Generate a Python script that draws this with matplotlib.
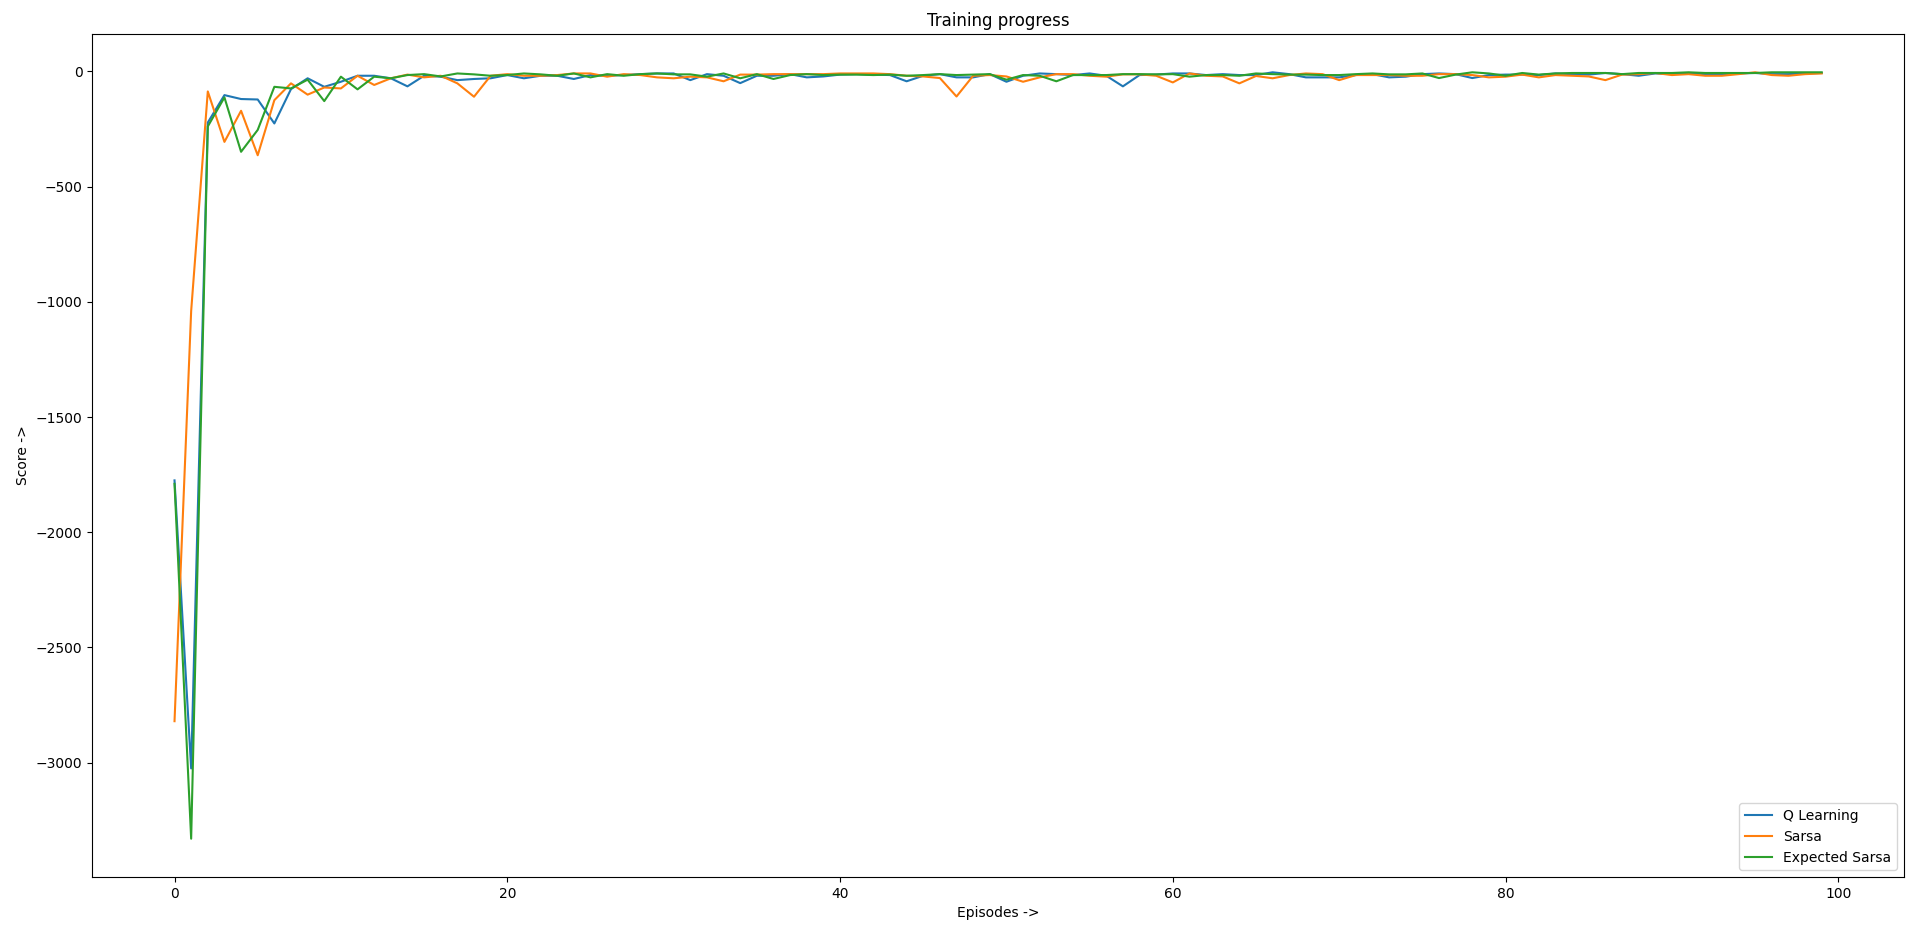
import matplotlib
matplotlib.use("Agg")
import matplotlib.pyplot as plt

episodes = list(range(100))

q_learning = [-1775, -3025, -222, -103, -120, -122, -226, -77, -30, -67,
              -45, -19, -19, -30, -65, -19, -23, -38, -33, -30,
              -16, -30, -19, -19, -33, -16, -19, -16, -12, -9,
              -9, -38, -12, -19, -51, -19, -19, -12, -26, -22,
              -14, -12, -14, -16, -43, -19, -12, -26, -26, -12,
              -45, -19, -9, -12, -16, -9, -19, -65, -16, -14,
              -9, -9, -16, -12, -16, -16, -4, -12, -26, -26,
              -26, -16, -12, -26, -23, -12, -9, -12, -29, -16,
              -14, -14, -16, -9, -12, -14, -7, -12, -19, -9,
              -12, -7, -12, -12, -9, -7, -12, -12, -9, -7]

sarsa = [-2820, -1040, -87, -306, -171, -364, -125, -52, -101, -70,
         -74, -19, -59, -30, -14, -26, -19, -52, -110, -19,
         -12, -19, -19, -16, -9, -9, -23, -12, -16, -26,
         -30, -23, -26, -43, -14, -14, -12, -12, -12, -12,
         -9, -9, -9, -12, -19, -22, -29, -109, -19, -16,
         -22, -45, -26, -12, -12, -19, -23, -13, -13, -19,
         -48, -9, -19, -22, -52, -20, -30, -16, -9, -12,
         -38, -16, -16, -16, -19, -19, -12, -12, -16, -26,
         -23, -14, -26, -16, -19, -22, -38, -14, -12, -7,
         -16, -12, -19, -19, -12, -4, -16, -19, -12, -9]

expected_sarsa = [-1790, -3330, -239, -113, -349, -254, -67, -74, -36, -129,
                  -23, -78, -23, -30, -16, -12, -22, -9, -13, -19,
                  -16, -9, -13, -19, -9, -26, -12, -19, -12, -9,
                  -13, -13, -23, -9, -30, -12, -33, -16, -12, -16,
                  -14, -14, -16, -14, -19, -16, -12, -16, -14, -12,
                  -36, -16, -19, -43, -16, -16, -16, -12, -12, -13,
                  -12, -23, -16, -16, -19, -9, -12, -14, -14, -16,
                  -16, -12, -9, -13, -13, -9, -29, -14, -4, -9,
                  -19, -7, -14, -9, -7, -7, -7, -12, -7, -7,
                  -7, -4, -7, -7, -7, -7, -4, -4, -4, -4]

fig = plt.figure(figsize=(19.2, 9.36), dpi=100)
ax = fig.add_axes([0.048, 0.063, 0.9437, 0.9007])
ax.plot(episodes, q_learning, label="Q Learning")
ax.plot(episodes, sarsa, label="Sarsa")
ax.plot(episodes, expected_sarsa, label="Expected Sarsa")
ax.set_title("Training progress")
ax.set_xlabel("Episodes ->")
ax.set_ylabel("Score ->")
ax.legend(loc="lower right")
fig.savefig("out.png", dpi=100)
